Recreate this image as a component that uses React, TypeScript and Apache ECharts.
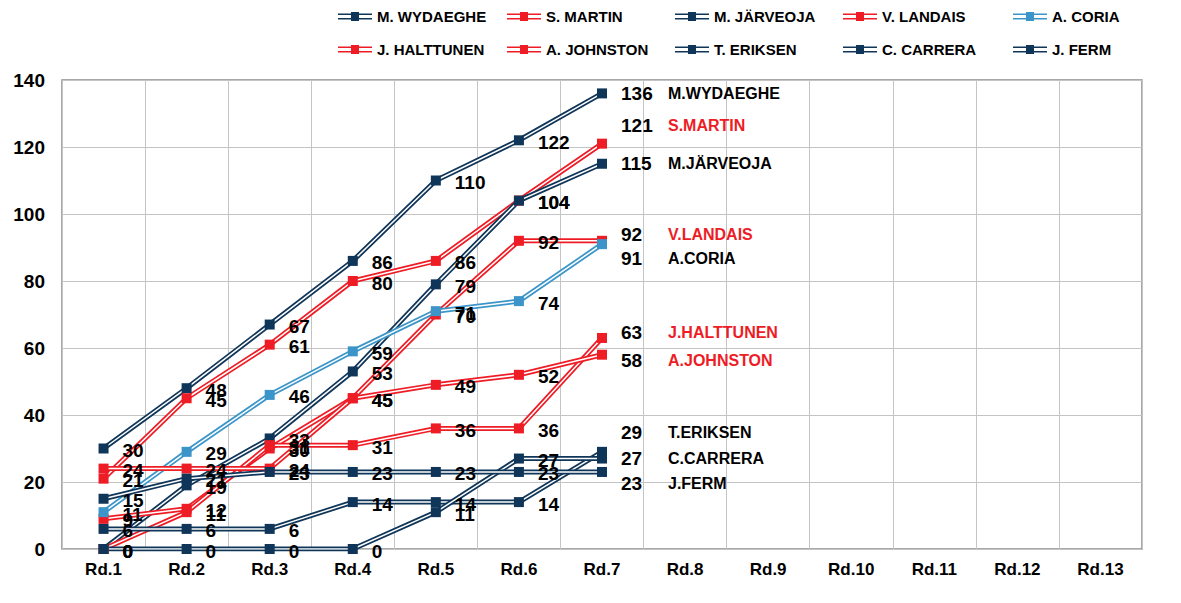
import { useEffect, useRef } from 'react';
import * as echarts from 'echarts';

// round labels on the x axis
const rounds = ['Rd.1', 'Rd.2', 'Rd.3', 'Rd.4', 'Rd.5', 'Rd.6', 'Rd.7', 'Rd.8', 'Rd.9', 'Rd.10', 'Rd.11', 'Rd.12', 'Rd.13'];

// cumulative points per round
const wydaeghe = [30, 48, 67, 86, 110, 122, 136];
const martin = [21, 45, 61, 80, 86, 104, 121];
const jarveoja = [0, 19, 33, 53, 79, 104, 115];
const landais = [9, 12, 30, 45, 70, 92, 92];
const coria = [11, 29, 46, 59, 71, 74, 91];
const halttunen = [0, 11, 31, 31, 36, 36, 63];
const johnston = [24, 24, 24, 45, 49, 52, 58];
const eriksen = [6, 6, 6, 14, 14, 14, 29];
const carrera = [0, 0, 0, 0, 11, 27, 27];
const ferm = [15, 21, 23, 23, 23, 23, 23];

const legendNames = ['M. WYDAEGHE', 'S. MARTIN', 'M. JÄRVEOJA', 'V. LANDAIS', 'A. CORIA', 'J. HALTTUNEN', 'A. JOHNSTON', 'T. ERIKSEN', 'C. CARRERA', 'J. FERM'];
const endNames = ['M.WYDAEGHE', 'S.MARTIN', 'M.JÄRVEOJA', 'V.LANDAIS', 'A.CORIA', 'J.HALTTUNEN', 'A.JOHNSTON', 'T.ERIKSEN', 'C.CARRERA', 'J.FERM'];
const scores = [wydaeghe, martin, jarveoja, landais, coria, halttunen, johnston, eriksen, carrera, ferm];

// styles
const NAVY = '#0f3558';
const RED = '#ee1c25';
const SKY = '#3b95c9';
const lineColors = [NAVY, RED, NAVY, RED, SKY, RED, RED, NAVY, NAVY, NAVY];
const nameColors = ['#000', RED, '#000', RED, '#000', RED, RED, '#000', '#000', '#000'];
const endLabelShift = [0, -18, 0, -6, 14, -5, 6, -19, 0, 12];
const legendLeft = [338, 507, 675, 843, 1013];
const legendTop = [9, 42];
const FONT = "'Liberation Sans', Arial, sans-serif";

const legendIcon = 'path://M0,1.5H13V3H0Z M0,6H13V7.5H0Z M13,0H21V9H13Z M21,1.5H34V3H21Z M21,6H34V7.5H21Z';

export default function App() {
    const chartRef = useRef<HTMLDivElement>(null);

    useEffect(() => {
        if (!chartRef.current) return;
        document.body.style.margin = '0';
        const chart = echarts.init(chartRef.current, null, { renderer: 'svg' });

        const series: any[] = [];
        scores.forEach((vals, i) => {
            const color = lineColors[i];
            // double line: wide coloured stroke with a thin white stroke on top
            series.push({
                name: legendNames[i] + '-outer',
                type: 'line',
                data: vals,
                showSymbol: false,
                silent: true,
                lineStyle: { color, width: 5 },
                itemStyle: { color },
            });
            series.push({
                name: legendNames[i] + '-inner',
                type: 'line',
                data: vals,
                showSymbol: false,
                silent: true,
                lineStyle: { color: '#ffffff', width: 1.5 },
                itemStyle: { color: '#ffffff' },
            });
            const last = vals.length - 1;
            series.push({
                name: legendNames[i],
                type: 'line',
                symbol: 'rect',
                symbolSize: 10,
                showAllSymbol: true,
                lineStyle: { opacity: 0 },
                itemStyle: { color, opacity: 1 },
                label: {
                    show: true,
                    position: 'right',
                    distance: 14,
                    offset: [0, 2],
                    fontSize: 19,
                    fontWeight: 'bold',
                    fontFamily: FONT,
                    color: '#000',
                },
                data: vals.map((v, j) =>
                    j === last
                        ? {
                              value: v,
                              label: {
                                  offset: [0, endLabelShift[i]],
                                  formatter: `{v|${v}}{n|${endNames[i]}}`,
                                  rich: {
                                      v: { width: 47, fontSize: 19, fontWeight: 'bold', fontFamily: FONT, color: '#000' },
                                      n: { fontSize: 16, fontWeight: 'bold', fontFamily: FONT, color: nameColors[i] },
                                  },
                              },
                          }
                        : v
                ),
            });
        });

        const option: any = {
            animation: false,
            legend: legendNames.map((name, i) => ({
                data: [{ name, icon: legendIcon }],
                left: legendLeft[i % 5],
                top: legendTop[Math.floor(i / 5)],
                padding: 0,
                itemWidth: 34,
                itemHeight: 9,
                selectedMode: false,
                textStyle: { fontSize: 15, fontWeight: 'bold', fontFamily: FONT, color: '#000' },
            })),
            grid: {
                left: 62,
                right: 39,
                top: 80,
                bottom: 54,
                show: true,
                borderColor: '#8c8c8c',
                borderWidth: 1.5,
            },
            xAxis: {
                type: 'category',
                data: rounds,
                boundaryGap: true,
                axisLine: { show: false },
                axisTick: { show: false },
                axisLabel: { interval: 0, margin: 12, fontSize: 17, fontWeight: 'bold', fontFamily: FONT, color: '#000' },
                splitLine: { show: true, interval: 0, lineStyle: { color: '#c4c4c4', width: 1 } },
            },
            yAxis: {
                type: 'value',
                min: 0,
                max: 140,
                interval: 20,
                axisLine: { show: false },
                axisTick: { show: false },
                axisLabel: { margin: 17, fontSize: 19, fontWeight: 'bold', fontFamily: FONT, color: '#000' },
                splitLine: { lineStyle: { color: '#c4c4c4', width: 1 } },
            },
            series,
        };

        chart.setOption(option);
        return () => chart.dispose();
    }, []);

    return <div ref={chartRef} style={{ width: 1181, height: 603 }} />;
}
